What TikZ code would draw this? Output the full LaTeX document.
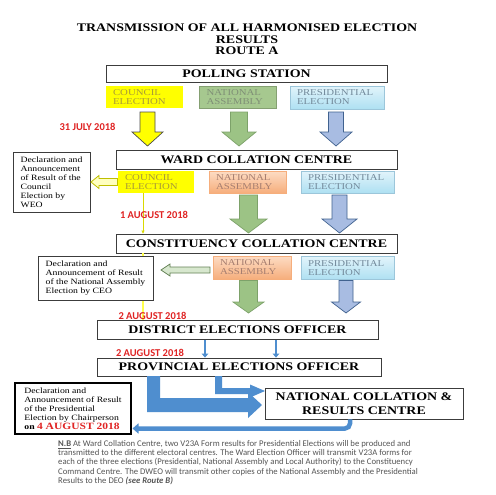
\documentclass[tikz,border=0pt]{standalone}
\usepackage{fontspec}
\usetikzlibrary{arrows.meta,calc}
\newfontfamily\bk{Liberation Serif}[FakeStretch=1.2]
\newfontfamily\calfont{Carlito}
\definecolor{boxborder}{HTML}{3C3C3C}
\definecolor{yel}{HTML}{FFFF00}
\definecolor{counciltxt}{HTML}{A89A38}
\definecolor{nagreen}{HTML}{A6C88F}
\definecolor{natxt}{HTML}{7F8F76}
\definecolor{prestop}{HTML}{E2F4FB}
\definecolor{presbot}{HTML}{AEE0F2}
\definecolor{presbd}{HTML}{9CC6DA}
\definecolor{prestxt}{HTML}{72899A}
\definecolor{orgtop}{HTML}{FDDCC4}
\definecolor{orgbot}{HTML}{F6AE7C}
\definecolor{orgtxt}{HTML}{A67E70}
\definecolor{agreen}{HTML}{9CC385}
\definecolor{agreenbd}{HTML}{7DA26A}
\definecolor{ablue}{HTML}{A8BCE2}
\definecolor{abluebd}{HTML}{41628F}
\definecolor{lowblue}{HTML}{4F8ECF}
\definecolor{datered}{HTML}{E02424}
\definecolor{nbgray}{HTML}{555555}
\newcommand{\blkdown}[7]{\draw[#1] ({#2-#3},#5) -- ({#2+#3},#5) -- ({#2+#3},#6) -- ({#2+#4},#6) -- (#2,#7) -- ({#2-#4},#6) -- ({#2-#3},#6) -- cycle;}
\newcommand{\blkleft}[7]{\draw[#1] (#5,{#2-#3}) -- (#6,{#2-#3}) -- (#6,{#2-#4}) -- (#7,#2) -- (#6,{#2+#4}) -- (#6,{#2+#3}) -- (#5,{#2+#3}) -- cycle;}
\tikzset{
  mainbox/.style={draw=boxborder, line width=0.8pt, fill=white, inner sep=0pt,
    font={\bk\bfseries\fontsize{11.6pt}{14pt}\selectfont}, align=center},
  smallbox/.style={inner xsep=7pt, inner ysep=0pt, align=left,
    font={\bk\fontsize{9pt}{9pt}\selectfont}},
  declbox/.style={draw=boxborder, line width=0.8pt, fill=white, inner sep=0pt, align=left,
    font={\bk\fontsize{8.1pt}{9pt}\selectfont}},
  datelbl/.style={text=datered, inner sep=0pt, font={\calfont\bfseries\fontsize{10.5pt}{12pt}\selectfont}},
  yarrow/.style={fill=yel, draw=black!70, line width=0.7pt},
  garrow/.style={fill=agreen, draw=agreenbd, line width=0.7pt},
  barrow/.style={fill=ablue, draw=abluebd, line width=0.7pt},
}
\begin{document}
\begin{tikzpicture}[x=1pt,y=-1pt]
\useasboundingbox (0,0) rectangle (495,495);
\fill[white] (0,0) rectangle (495,495);

% title
\node[inner sep=0pt, align=center, font={\bk\bfseries\fontsize{11.6pt}{11.6pt}\selectfont}] (title) at (247,39.5)
  {TRANSMISSION OF ALL HARMONISED ELECTION\\RESULTS\\ROUTE A};

% main boxes
\node[mainbox, minimum width=281pt, minimum height=17pt] (ps) at (246.5,73.5) {POLLING STATION};
\node[mainbox, minimum width=281pt, minimum height=19pt] (ward) at (256.5,159.5) {WARD COLLATION CENTRE};
\node[mainbox, minimum width=281pt, minimum height=19pt] (const) at (256.5,243.5) {CONSTITUENCY COLLATION CENTRE};
\node[mainbox, minimum width=281pt, minimum height=19pt] (deo) at (237.5,330) {DISTRICT ELECTIONS OFFICER};
\node[mainbox, minimum width=284pt, minimum height=18pt] (peo) at (239,367) {PROVINCIAL ELECTIONS OFFICER};
\node[mainbox, minimum width=198pt, minimum height=31pt] (ncrc) at (364,403.5) {NATIONAL COLLATION \&\\RESULTS CENTRE};

% row 1 small boxes
\node[smallbox, fill=yel, text=counciltxt, text width=63pt, minimum height=22pt] (c1) at (144.5,97) {COUNCIL\\ELECTION};
\node[smallbox, fill=nagreen, draw=nagreen!80!black, line width=0.3pt, text=natxt, text width=63pt, minimum height=22pt] (n1) at (238,97) {NATIONAL\\ASSEMBLY};
\node[smallbox, top color=prestop, bottom color=presbot, draw=presbd, line width=0.4pt, text=prestxt, text width=80pt, minimum height=23pt] (p1) at (337,97.5) {PRESIDENTIAL\\ELECTION};

% row 2 small boxes
\node[smallbox, fill=yel, text=counciltxt, text width=62pt, minimum height=22pt] (c2) at (156,182) {COUNCIL\\ELECTION};
\node[smallbox, top color=orgtop, bottom color=orgbot, draw=orgbot, line width=0.3pt, text=orgtxt, text width=63pt, minimum height=22pt] (n2) at (247.5,182) {NATIONAL\\ASSEMBLY};
\node[smallbox, top color=prestop, bottom color=presbot, draw=presbd, line width=0.4pt, text=prestxt, text width=79pt, minimum height=22pt] (p2) at (347.5,182) {PRESIDENTIAL\\ELECTION};

% row 3 small boxes
\node[smallbox, top color=orgtop, bottom color=orgbot, draw=orgbot, line width=0.3pt, text=orgtxt, text width=64pt, minimum height=23pt] (n3) at (252,267.5) {NATIONAL\\ASSEMBLY};
\node[smallbox, top color=prestop, bottom color=presbot, draw=presbd, line width=0.4pt, text=prestxt, text width=79pt, minimum height=23pt] (p3) at (347.5,268) {PRESIDENTIAL\\ELECTION};

% thin yellow council line
\coordinate (yl1) at (143,0 |- c2.south);
\coordinate (yl2) at (143,0 |- const.north);
\coordinate (yl3) at (143,0 |- const.south);
\coordinate (yl4) at (143,0 |- deo.north);
\draw[yel!85!black, line width=0.6pt, -{Triangle[length=3pt,width=3pt]}] (yl1) -- (yl2);
\draw[yel!70!white, line width=2pt] (yl3) -- (yl4);

% declaration boxes
\node[declbox, minimum width=77pt, minimum height=60pt] (d1) at (51.5,182)
  {Declaration and\\Announcement\\of Result of the\\Council\\Election by\\WEO};
\node[declbox, minimum width=115pt, minimum height=44pt] (d2) at (95.5,278)
  {Declaration and\\Announcement of Result\\of the National Assembly\\Election by CEO};
\node[declbox, draw=black, line width=1.3pt, minimum width=116pt, minimum height=51pt] (d3) at (73,408.5)
  {Declaration and\\Announcement of Result\\of the Presidential\\Election by Chairperson\\\textbf{on} {\color{datered}\bfseries\fontsize{9.6pt}{9pt}\selectfont 4 AUGUST 2018}};

% block arrows row 1
\blkdown{yarrow}{147.5}{7.5}{15.5}{112}{132}{146}
\blkdown{garrow}{239}{8.5}{17}{112}{132}{146}
\blkdown{barrow}{336}{7.5}{16}{112}{132}{146}
% row 2
\blkdown{garrow}{248.5}{9}{18.5}{195}{219}{233}
\blkdown{barrow}{339.5}{7.5}{17.5}{195}{219}{233}
% row 3
\blkdown{garrow}{248.5}{9}{15.5}{280.5}{302}{313}
\blkdown{barrow}{346}{7}{14.5}{280.5}{302}{313}

% hollow left arrows
\blkleft{fill=yel!25, draw=yel!75!black, line width=0.8pt}{182}{3.5}{6.5}{117.5}{99}{91}
\blkleft{fill=agreen!40, draw=agreenbd!80!black, line width=0.8pt}{270}{3}{6}{210}{170}{161}

% small blue arrows DEO -> PEO
\draw[lowblue, line width=2.2pt, -{Triangle[length=4pt,width=6.5pt]}] (205,0 |- deo.south) -- (205,0 |- peo.north);
\draw[lowblue, line width=2.2pt, -{Triangle[length=4pt,width=6.5pt]}] (276,0 |- deo.south) -- (276,0 |- peo.north);

% L arrows PEO -> NCRC
\fill[lowblue] (215,376) -- (222,376) -- (222,388) -- (250,388) -- (250,384.5) -- (265,391) -- (250,397.5) -- (250,394) -- (215,394) -- cycle;
\fill[lowblue] (147,376) -- (160,376) -- (160,398) -- (248,398) -- (248,392) -- (262,405) -- (248,418) -- (248,412) -- (147,412) -- cycle;

% return arrow NCRC -> declaration 3
\coordinate (ret) at (132.5,428.5);
\draw[lowblue, line width=4.5pt, rounded corners=5pt, -{Triangle[length=6pt,width=10pt]}] (350,0 |- ncrc.south) |- (ret);

% date labels
\node[datelbl] (dt1) at (87.5,126.5) {31 JULY 2018};
\node[datelbl] (dt2) at (154,215) {1 AUGUST 2018};
\node[datelbl] (dt3) at (152.5,316) {2 AUGUST 2018};
\node[datelbl] (dt4) at (150,353) {2 AUGUST 2018};

% note
\node[anchor=north west, inner sep=0pt, align=left, text=nbgray, font={\calfont\fontsize{8.7pt}{9.3pt}\selectfont}] (nb) at (58,440)
  {\underline{\textbf{N.B}} At Ward Collation Centre, two V23A Form results for Presidential Elections will be produced and\\
   transmitted to the different electoral centres. The Ward Election Officer will transmit V23A forms for\\
   each of the three elections (Presidential, National Assembly and Local Authority) to the Constituency\\
   Command Centre. The DWEO will transmit other copies of the National Assembly and the Presidential\\
   Results to the DEO \textbf{\textit{(see Route B)}}};
\end{tikzpicture}
\end{document}
